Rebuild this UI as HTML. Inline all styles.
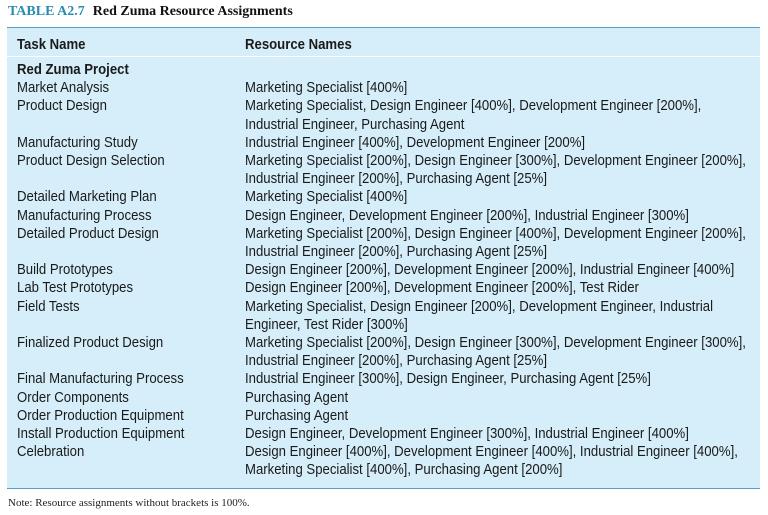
<!DOCTYPE html>
<html><head><meta charset="utf-8"><style>
body{margin:0;width:768px;height:515px;background:#fff;position:relative;overflow:hidden}
.title{position:absolute;left:8px;top:4px;font:bold 14px "Liberation Serif",serif;color:#111}
.title span{color:#2a8bb0;margin-right:8px}
.box{position:absolute;left:7px;top:27px;width:753px;height:460px;background:#d5eef9;border-top:1.5px solid #4fa3c4;border-bottom:1.5px solid #4fa3c4}
.hdr{position:absolute;left:0;top:0;width:100%;height:28px;border-bottom:1px solid #fff}
.t{font-family:"Liberation Sans Narrow","Liberation Sans",sans-serif;font-size:15px;color:#1a1a1a;white-space:nowrap;transform:scaleX(0.877);transform-origin:0 0}
.row{position:absolute;left:10px;line-height:18.2px}
.c2{position:absolute;left:238px;line-height:18.2px}
.note{position:absolute;left:8px;top:497px;font:11px "Liberation Serif",serif;color:#222}
</style></head><body>
<div class="title"><span>TABLE A2.7</span>Red Zuma Resource Assignments</div>
<div class="box">
<div class="hdr"></div>
<div class="t row" style="top:8px;font-weight:bold">Task Name</div>
<div class="t c2" style="top:8px;font-weight:bold">Resource Names</div>
<div class="t row" style="top:33px">
<b>Red Zuma Project</b><br>Market Analysis<br>Product Design<br><br>Manufacturing Study<br>Product Design Selection<br><br>Detailed Marketing Plan<br>Manufacturing Process<br>Detailed Product Design<br><br>Build Prototypes<br>Lab Test Prototypes<br>Field Tests<br><br>Finalized Product Design<br><br>Final Manufacturing Process<br>Order Components<br>Order Production Equipment<br>Install Production Equipment<br>Celebration</div>
<div class="t c2" style="top:33px">
<br>Marketing Specialist [400%]<br>
Marketing Specialist, Design Engineer [400%], Development Engineer [200%],<br>
Industrial Engineer, Purchasing Agent<br>
Industrial Engineer [400%], Development Engineer [200%]<br>
Marketing Specialist [200%], Design Engineer [300%], Development Engineer [200%],<br>
Industrial Engineer [200%], Purchasing Agent [25%]<br>
Marketing Specialist [400%]<br>
Design Engineer, Development Engineer [200%], Industrial Engineer [300%]<br>
Marketing Specialist [200%], Design Engineer [400%], Development Engineer [200%],<br>
Industrial Engineer [200%], Purchasing Agent [25%]<br>
Design Engineer [200%], Development Engineer [200%], Industrial Engineer [400%]<br>
Design Engineer [200%], Development Engineer [200%], Test Rider<br>
Marketing Specialist, Design Engineer [200%], Development Engineer, Industrial<br>
Engineer, Test Rider [300%]<br>
Marketing Specialist [200%], Design Engineer [300%], Development Engineer [300%],<br>
Industrial Engineer [200%], Purchasing Agent [25%]<br>
Industrial Engineer [300%], Design Engineer, Purchasing Agent [25%]<br>
Purchasing Agent<br>
Purchasing Agent<br>
Design Engineer, Development Engineer [300%], Industrial Engineer [400%]<br>
Design Engineer [400%], Development Engineer [400%], Industrial Engineer [400%],<br>
Marketing Specialist [400%], Purchasing Agent [200%]</div>
</div>
<div class="note">Note: Resource assignments without brackets is 100%.</div>
</body></html>
